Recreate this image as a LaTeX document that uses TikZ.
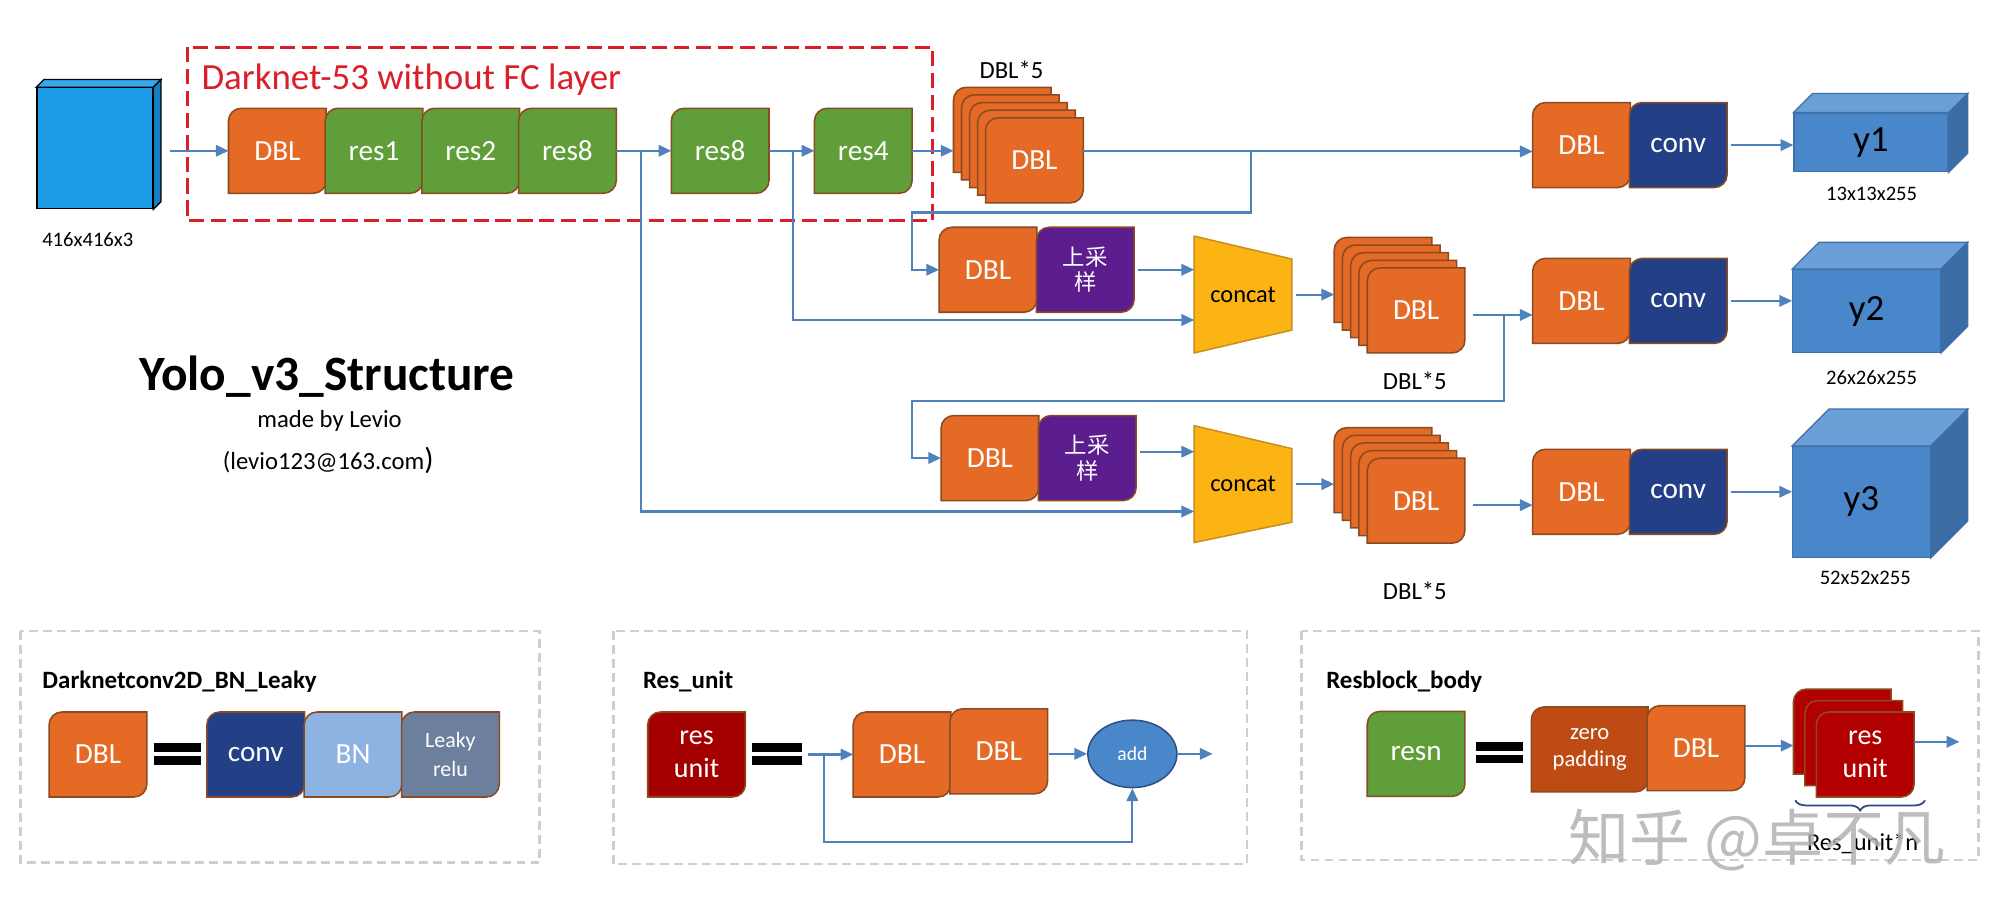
\documentclass[tikz,border=0pt]{standalone}
\usepackage{fontspec}
\setmainfont{Carlito}
\newfontfamily\cjk{Noto Sans CJK SC}
\usetikzlibrary{arrows.meta,decorations.pathreplacing,calc,shapes.geometric}
\pgfdeclarelayer{bg}
\pgfsetlayers{bg,main}

\definecolor{dblor}{HTML}{E46A26}
\definecolor{resgr}{HTML}{5F9E38}
\definecolor{upvi}{HTML}{5C1D8E}
\definecolor{convnv}{HTML}{233F86}
\definecolor{bnblue}{HTML}{8DB3E2}
\definecolor{leaky}{HTML}{6C809E}
\definecolor{concaty}{HTML}{FCB414}
\definecolor{concatb}{HTML}{C8901A}
\definecolor{resred}{HTML}{B20000}
\definecolor{resredb}{HTML}{A40000}
\definecolor{zeropad}{HTML}{BE4B14}
\definecolor{brd}{HTML}{8A4B22}
\definecolor{arrbl}{HTML}{4F81BD}
\definecolor{reddash}{HTML}{DC1E28}
\definecolor{panelg}{HTML}{CFCFCF}
\definecolor{incube}{HTML}{1C9BE6}
\definecolor{incubetop}{HTML}{34A8EE}
\definecolor{incubeside}{HTML}{167EC0}
\definecolor{ocfront}{HTML}{4A86CA}
\definecolor{octop}{HTML}{6A9FD8}
\definecolor{ocside}{HTML}{3B6CA6}
\definecolor{ocline}{HTML}{3F70A8}
\definecolor{addfill}{HTML}{4A86CA}
\definecolor{addline}{HTML}{2E4F86}
\definecolor{bracec}{HTML}{2E4A80}

\newcommand\boxr{5pt}
\newcommand\mkbox[6][]{%
  \node[boxnode,#1] (#2) at (#3,#4) {#6};
  \begin{pgfonlayer}{bg}
    \filldraw[fill=#5, draw=brd, line width=0.6pt] (#2.south west) -- ([yshift=-\boxr]#2.north west) arc[start angle=180,end angle=90,radius=\boxr] -- (#2.north east) -- ([yshift=\boxr]#2.south east) arc[start angle=0,end angle=-90,radius=\boxr] -- cycle;
  \end{pgfonlayer}}

\begin{document}
\begin{tikzpicture}[x=0.5pt,y=-0.5pt,
  boxnode/.style={minimum width=38pt, minimum height=33pt, inner sep=0pt, text=white, align=center, font=\fontsize{11.5pt}{13pt}\selectfont},
  arr/.style={draw=arrbl, line width=0.8pt, -{Triangle[length=5pt,width=4.5pt]}},
  ln/.style={draw=arrbl, line width=0.6pt},
  lbl/.style={font=\fontsize{8.1pt}{10pt}\selectfont},
  lblfive/.style={font=\fontsize{9.7pt}{11pt}\selectfont},
  hdr/.style={anchor=west, inner sep=0pt, font=\fontsize{9.8pt}{11pt}\selectfont\bfseries},
  panel/.style={draw=panelg, line width=1pt, dash pattern=on 3.5pt off 2pt},
  eqbar/.style={fill=black}]
\begin{pgfonlayer}{bg}
\fill[white] (0,0) rectangle (1568,724);
\end{pgfonlayer}
\useasboundingbox (0,0) rectangle (1568,724);

% ---------- input cube
\node[minimum width=45.5pt, minimum height=47.5pt, inner sep=0pt, fill=incube, draw=black, line width=0.5pt] (inp) at (74.5,116.5) {};
\filldraw[fill=incubetop, draw=black, line width=0.5pt] (inp.north west) -- ++(3pt,3pt) -- ([shift={(3pt,3pt)}]inp.north east) -- (inp.north east) -- cycle;
\filldraw[fill=incubeside, draw=black, line width=0.5pt] (inp.north east) -- ++(3pt,3pt) -- ([shift={(3pt,3pt)}]inp.south east) -- (inp.south east) -- cycle;
\node[lbl] (l416) at (69,188) {416x416x3};

% ---------- backbone
\mkbox{bDBL}{218}{118.5}{dblor}{DBL}
\mkbox{resA}{294}{118.5}{resgr}{res1}
\mkbox{resB}{370}{118.5}{resgr}{res2}
\mkbox{resC}{446}{118.5}{resgr}{res8}
\mkbox{resD}{566}{118.5}{resgr}{res8}
\mkbox{resE}{678.5}{118.5}{resgr}{res4}

\draw[reddash, line width=1.2pt, dash pattern=on 6pt off 2.6pt] (147,37) rectangle (733,173);
\node[anchor=west, inner sep=0pt, text=reddash, font=\fontsize{14.5pt}{16pt}\selectfont] (dk) at (158,63) {Darknet-53 without FC layer};

% ---------- DBL*5 stacks
\foreach \k in {4,3,2,1} {\mkbox{sa\k}{813-6.3*\k}{126-6*\k}{dblor}{}}
\mkbox{stackA}{813}{126}{dblor}{DBL}
\foreach \k in {4,3,2,1} {\mkbox{sb\k}{1113-6.5*\k}{244-6*\k}{dblor}{}}
\mkbox{stackB}{1113}{244}{dblor}{DBL}
\foreach \k in {4,3,2,1} {\mkbox{sc\k}{1113-6.5*\k}{393.5-6*\k}{dblor}{}}
\mkbox{stackC}{1113}{393.5}{dblor}{DBL}
\node[lblfive] (d5a) at (795,55) {DBL*5};
\node[lblfive] (d5b) at (1112,299) {DBL*5};
\node[lblfive] (d5c) at (1112,464) {DBL*5};

% ---------- upsample rows
\mkbox{upD2}{776.5}{212}{dblor}{DBL}
\mkbox[font=\cjk\fontsize{8.8pt}{10pt}\selectfont]{upS2}{853}{212}{upvi}{上采\\样}
\mkbox{upD3}{778}{360}{dblor}{DBL}
\mkbox[font=\cjk\fontsize{8.8pt}{10pt}\selectfont]{upS3}{854.5}{360}{upvi}{上采\\样}

% ---------- concat
\node[minimum width=38pt, minimum height=45.5pt, inner sep=0pt, font=\fontsize{9.6pt}{11pt}\selectfont] (catA) at (977,231.5) {concat};
\node[minimum width=38pt, minimum height=45.5pt, inner sep=0pt, font=\fontsize{9.6pt}{11pt}\selectfont] (catB) at (977,380.5) {concat};
\begin{pgfonlayer}{bg}
\filldraw[fill=concaty, draw=concatb, line width=0.6pt] (catA.north west) -- ([yshift=-9pt]catA.north east) -- ([yshift=9pt]catA.south east) -- (catA.south west) -- cycle;
\filldraw[fill=concaty, draw=concatb, line width=0.6pt] (catB.north west) -- ([yshift=-9pt]catB.north east) -- ([yshift=8pt]catB.south east) -- (catB.south west) -- cycle;
\end{pgfonlayer}

% ---------- heads
\mkbox{hD1}{1243}{114}{dblor}{DBL}
\mkbox{hC1}{1319}{114}{convnv}{conv}
\mkbox{hD2}{1243}{236.5}{dblor}{DBL}
\mkbox{hC2}{1319}{236.5}{convnv}{conv}
\mkbox{hD3}{1243}{386.5}{dblor}{DBL}
\mkbox{hC3}{1319}{386.5}{convnv}{conv}

% ---------- output cubes
\node[minimum width=60.5pt, minimum height=23pt, inner sep=0pt, fill=ocfront, draw=ocline, line width=0.5pt, font=\fontsize{14.5pt}{16pt}\selectfont] (yA) at (1470.5,112) {y1};
\filldraw[fill=octop, draw=ocline, line width=0.5pt] (yA.north west) -- ++(7.5pt,7.5pt) -- ([shift={(7.5pt,7.5pt)}]yA.north east) -- (yA.north east) -- cycle;
\filldraw[fill=ocside, draw=ocline, line width=0.5pt] (yA.north east) -- ++(7.5pt,7.5pt) -- ([shift={(7.5pt,7.5pt)}]yA.south east) -- (yA.south east) -- cycle;
\node[minimum width=58pt, minimum height=32.5pt, inner sep=0pt, fill=ocfront, draw=ocline, line width=0.5pt, font=\fontsize{14.5pt}{16pt}\selectfont] (yB) at (1467,244.5) {y2};
\filldraw[fill=octop, draw=ocline, line width=0.5pt] (yB.north west) -- ++(10.5pt,10.5pt) -- ([shift={(10.5pt,10.5pt)}]yB.north east) -- (yB.north east) -- cycle;
\filldraw[fill=ocside, draw=ocline, line width=0.5pt] (yB.north east) -- ++(10.5pt,10.5pt) -- ([shift={(10.5pt,10.5pt)}]yB.south east) -- (yB.south east) -- cycle;
\node[minimum width=54pt, minimum height=43.5pt, inner sep=0pt, fill=ocfront, draw=ocline, line width=0.5pt, font=\fontsize{14.5pt}{16pt}\selectfont] (yC) at (1463,394.5) {y3};
\filldraw[fill=octop, draw=ocline, line width=0.5pt] (yC.north west) -- ++(14.5pt,14.5pt) -- ([shift={(14.5pt,14.5pt)}]yC.north east) -- (yC.north east) -- cycle;
\filldraw[fill=ocside, draw=ocline, line width=0.5pt] (yC.north east) -- ++(14.5pt,14.5pt) -- ([shift={(14.5pt,14.5pt)}]yC.south east) -- (yC.south east) -- cycle;
\node[lbl] (l13) at (1471,152) {13x13x255};
\node[lbl] (l26) at (1471,297) {26x26x255};
\node[lbl] (l52) at (1466,454) {52x52x255};

% ---------- connectors
\draw[arr] ([xshift=6.5pt]inp.east |- bDBL.west) -- (bDBL.west);
\draw[arr] (resC.east) -- (resD.west);
\draw[arr] (resD.east) -- (resE.west);
\draw[arr] (resE.east) -- (resE.east -| sa4.west);
\coordinate (cA) at ([yshift=-2.5pt]hD1.west);
\draw[arr] (stackA.east |- cA) -- (cA);
\coordinate (jA) at (983,119);
\coordinate (kA) at (717,167);
\draw[arr] (jA) |- (kA) |- (upD2.west);
\draw[arr] ([xshift=1.5pt]upS2.east) -- (upS2.east -| catA.west);
\coordinate (jB) at (623,118.5);
\coordinate (cB) at ([yshift=-10pt]catA.west);
\draw[arr] (jB) |- (cB);
\draw[arr] ([xshift=1.5pt]catA.east) -- (catA.east -| sb4.west);
\coordinate (cC) at ([yshift=-5.5pt]hD2.west);
\draw[arr] ([xshift=3pt]stackB.east |- cC) -- (cC);
\coordinate (jC) at (1182,247.5);
\coordinate (kC) at (717,315);
\draw[arr] (jC) |- (kC) |- (upD3.west);
\coordinate (aS) at ([shift={(1.5pt,2.5pt)}]upS3.east);
\draw[arr] (aS) -- (aS -| catB.west);
\coordinate (jD) at (504,118.5);
\coordinate (cD) at ([yshift=-10.75pt]catB.west);
\draw[arr] (jD) |- (cD);
\draw[arr] ([xshift=1.5pt]catB.east) -- (catB.east -| sc4.west);
\coordinate (cE) at ([yshift=-5.25pt]hD3.west);
\draw[arr] ([xshift=3pt]stackC.east |- cE) -- (cE);
\draw[arr] ([xshift=1.5pt]hC1.east) -- (hC1.east -| yA.west);
\draw[arr] ([xshift=1.5pt]hC2.east) -- (hC2.east -| yB.west);
\draw[arr] ([xshift=1.5pt]hC3.east) -- (hC3.east -| yC.west);

% ---------- title
\node[font=\fontsize{19.4pt}{23pt}\selectfont\bfseries] (title) at (257,296) {Yolo\_v3\_Structure};
\node[font=\fontsize{9.7pt}{12pt}\selectfont] (made) at (259,331) {made by Levio};
\node[font=\fontsize{9.7pt}{12pt}\selectfont] (mail) at (258,362) {(levio123@163.com{\fontsize{12pt}{12pt}\selectfont)}};

% ---------- panel 1
\draw[panel] (16,496) rectangle (424,678);
\node[hdr] (h1) at (33,536) {Darknetconv2D\_BN\_Leaky};
\mkbox{pDBL}{77}{593}{dblor}{DBL}
\fill[eqbar] (121,584) rectangle (158,591);
\fill[eqbar] (121,594) rectangle (158,601);
\mkbox{pConv}{201}{593}{convnv}{conv}
\mkbox{pBN}{277.5}{593}{bnblue}{BN}
\mkbox[font=\fontsize{8.6pt}{11.5pt}\selectfont]{pLk}{354}{593}{leaky}{Leaky\\relu}

% ---------- panel 2
\draw[panel] (482,496) rectangle (980,679);
\node[hdr] (h2) at (505,536) {Res\_unit};
\mkbox[font=\fontsize{11pt}{13pt}\selectfont]{pRU}{547.5}{593}{resredb}{res\\unit}
\fill[eqbar] (591,584) rectangle (630,591);
\fill[eqbar] (591,594) rectangle (630,601);
\mkbox{rDa}{709}{593}{dblor}{DBL}
\mkbox{rDb}{785}{590.5}{dblor}{DBL}
\node[ellipse, minimum width=35pt, minimum height=26.5pt, inner sep=0pt, fill=addfill, draw=addline, line width=0.6pt, text=white, font=\fontsize{7.7pt}{9pt}\selectfont] (add) at (890,592.5) {add};
\coordinate (pS) at (635,593);
\draw[arr] (pS) -- (rDa.west);
\draw[arr] ([xshift=0.5pt]rDb.east |- add.west) -- (add.west);
\coordinate (pE) at (953,592.5);
\draw[arr] (add.east) -- (pE);
\coordinate (pK) at (648,593);
\coordinate (pB) at (890,662);
\draw[arr] (pK) |- (pB) -- (add.south);

% ---------- panel 3
\draw[panel] (1023,496) rectangle (1555,676);
\node[hdr] (h3) at (1042,536) {Resblock\_body};
\mkbox{pRN}{1113}{592.5}{resgr}{resn}
\fill[eqbar] (1160,583) rectangle (1197,590);
\fill[eqbar] (1160,593) rectangle (1197,600);
\mkbox[minimum width=45.5pt, font=\fontsize{8.9pt}{10.5pt}\selectfont]{pZP}{1249.5}{589}{zeropad}{zero\\padding}
\mkbox{pD}{1333}{588}{dblor}{DBL}
\mkbox{ru2}{1448}{575}{resred}{}
\mkbox{ru1}{1457}{584}{resred}{}
\mkbox[font=\fontsize{11pt}{13pt}\selectfont]{ruF}{1466}{593}{resred}{res\\unit}
\draw[arr] (pD.east |- 0,586) -- (ru2.west |- 0,586);
\coordinate (rE) at (1540,583);
\draw[arr] (ruF.east |- rE) -- (rE);
\draw[draw=bracec, line width=0.7pt, decorate, decoration={brace, mirror, amplitude=4pt}] (1411,629) -- (1513,629);
\node[font=\fontsize{9.6pt}{11pt}\selectfont] (run) at (1464,663) {Res\_unit*n};
\node[text=black!30, opacity=0.85, font=\cjk\fontsize{24pt}{26pt}\selectfont] (wm) at (1381,660) {知乎 @卓不凡};
\end{tikzpicture}
\end{document}
